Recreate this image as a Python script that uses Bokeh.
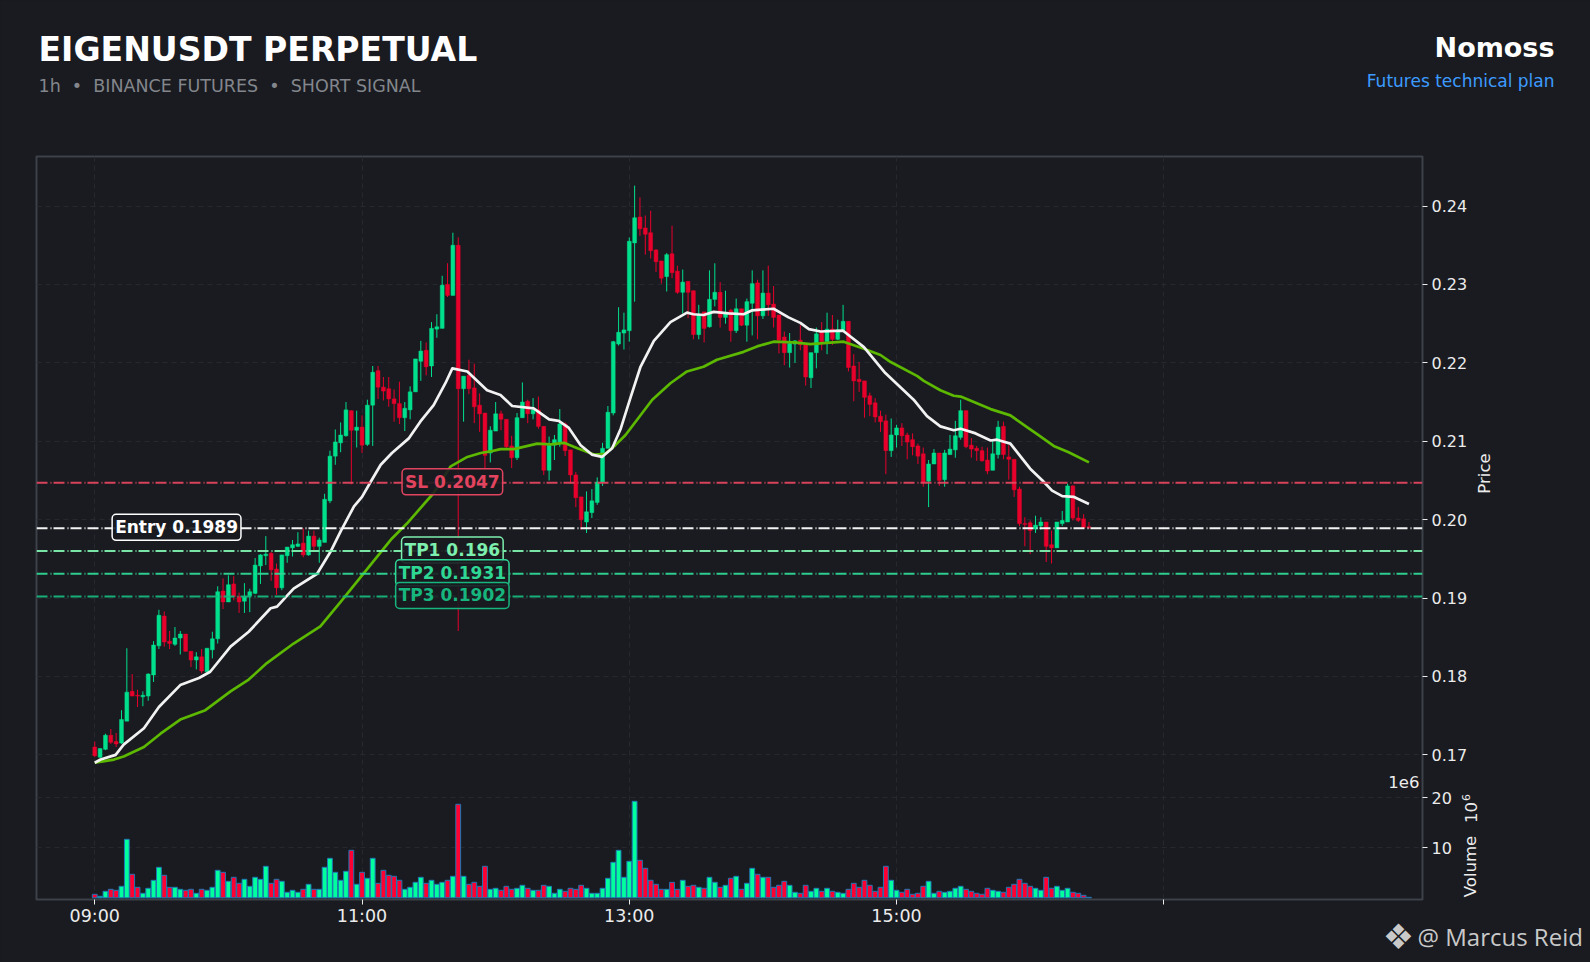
from bokeh.plotting import figure
from bokeh.models import Range1d, FixedTicker, Span, Label
from bokeh.embed import file_html
from bokeh.resources import INLINE

opens = [.1710,.1697,.1707,.1725,.1717,.1715,.1743,.1781,.1776,.1774,.1775,.1802,.1839,.1877,.1845,.1841,.1849,.1854,.1832,.1821,.1825,.1806,.1834,.1848,.1909,.1895,.1918,.1902,.1896,.1903,.1906,.1941,.1954,.1957,.1937,.1913,.1954,.1964,.1966,.1970,.1955,.1979,.1966,.1971,
.2024,.2081,.2098,.2107,.2139,.2114,.2118,.2096,.2146,.2190,.2169,.2167,.2154,.2148,.2130,.2140,.2163,.2202,.2216,.2196,.2243,.2244,.2300,.2286,.2350,.2167,.2184,.2168,.2146,.2136,.2085,.2113,.2135,.2128,.2094,.2079,.2130,.2151,.2135,.2140,.2119,.2063,.2095,.2099,.2122,.2089,.2057,.2029,.1997,.2009,.2022,.2048,.2091,.2136,
.2224,.2238,.2241,.2353,.2386,.2372,.2366,.2344,.2330,.2310,.2339,.2317,.2290,.2304,.2292,.2236,.2265,.2246,.2281,.2290,.2258,.2267,.2241,.2269,.2248,.2276,.2302,.2260,.2289,.2275,.2261,.2233,.2213,.2224,.2229,.2223,.2181,.2213,.2239,.2227,.2243,.2230,
.2241,.2253,.2196,.2179,.2177,.2158,.2149,.2132,.2126,.2088,.2108,.2117,.2108,.2102,.2094,.2084,.2049,.2071,.2085,.2051,.2083,.2089,.2105,.2139,.2095,.2091,.2088,.2076,.2063,.2083,.2119,.2080,.2077,.2039,.1995,.1996,.1988,.1992,.1997,.1968,.1964,.1995,.1997,.2043,.2002,.2001,.1991]
closes = [.1699,.1708,.1725,.1716,.1714,.1745,.1780,.1775,.1775,.1776,.1803,.1840,.1878,.1844,.1842,.1849,.1854,.1832,.1821,.1825,.1807,.1836,.1848,.1908,.1895,.1917,.1902,.1895,.1902,.1908,.1942,.1955,.1956,.1936,.1913,.1955,.1965,.1968,.1969,.1955,.1979,.1966,.1974,.2026,
.2081,.2099,.2108,.2140,.2114,.2118,.2095,.2146,.2188,.2169,.2164,.2154,.2148,.2130,.2142,.2163,.2205,.2215,.2195,.2244,.2246,.2299,.2286,.2350,.2167,.2183,.2167,.2144,.2135,.2082,.2114,.2135,.2128,.2093,.2079,.2130,.2150,.2135,.2140,.2119,.2063,.2095,.2102,.2122,.2088,.2057,.2028,.2000,.2010,.2024,.2048,.2091,.2137,.2227,
.2239,.2242,.2355,.2385,.2371,.2364,.2343,.2329,.2308,.2338,.2315,.2290,.2303,.2290,.2236,.2261,.2244,.2281,.2290,.2258,.2263,.2241,.2269,.2248,.2278,.2301,.2260,.2289,.2274,.2258,.2229,.2213,.2225,.2228,.2223,.2182,.2213,.2237,.2227,.2243,.2230,.2242,
.2253,.2194,.2177,.2176,.2156,.2147,.2131,.2125,.2088,.2108,.2117,.2107,.2099,.2093,.2081,.2048,.2071,.2085,.2050,.2085,.2090,.2107,.2139,.2093,.2090,.2088,.2075,.2062,.2084,.2118,.2083,.2077,.2038,.1995,.1994,.1986,.1993,.1997,.1966,.1964,.1997,.1999,.2043,.2002,.1999,.1990,.1990]
highs = [.1717,.1708,.1727,.1733,.1728,.1757,.1836,.1803,.1783,.1781,.1804,.1845,.1885,.1883,.1858,.1863,.1858,.1854,.1832,.1831,.1835,.1836,.1857,.1915,.1925,.1929,.1928,.1907,.1919,.1912,.1951,.1956,.1979,.1959,.1944,.1955,.1965,.1974,.1984,.1989,.1986,.1986,.1977,.2033,
.2088,.2115,.2124,.2150,.2139,.2139,.2133,.2153,.2196,.2196,.2182,.2182,.2166,.2176,.2150,.2170,.2205,.2228,.2226,.2252,.2262,.2311,.2327,.2366,.2360,.2183,.2204,.2199,.2161,.2136,.2119,.2150,.2139,.2128,.2107,.2136,.2175,.2153,.2155,.2157,.2119,.2106,.2108,.2141,.2124,.2089,.2061,.2029,.2036,.2039,.2054,.2098,.2145,.2228,
.2271,.2264,.2360,.2426,.2411,.2388,.2394,.2345,.2330,.2340,.2375,.2324,.2319,.2304,.2292,.2274,.2265,.2318,.2327,.2303,.2292,.2269,.2282,.2269,.2282,.2318,.2306,.2318,.2324,.2298,.2261,.2240,.2238,.2229,.2248,.2223,.2213,.2245,.2252,.2264,.2261,.2255,
.2274,.2253,.2211,.2201,.2177,.2162,.2155,.2139,.2134,.2129,.2121,.2123,.2111,.2110,.2097,.2092,.2076,.2090,.2085,.2089,.2108,.2126,.2153,.2139,.2104,.2094,.2093,.2092,.2102,.2126,.2125,.2095,.2077,.2042,.2003,.1999,.2005,.2003,.1997,.1986,.1997,.2011,.2046,.2044,.2016,.2007,.1997]
lows = [.1697,.1696,.1706,.1714,.1710,.1714,.1743,.1775,.1761,.1762,.1769,.1793,.1835,.1838,.1835,.1839,.1828,.1832,.1812,.1809,.1804,.1805,.1823,.1842,.1886,.1895,.1897,.1881,.1881,.1882,.1905,.1918,.1942,.1922,.1904,.1910,.1945,.1953,.1965,.1952,.1954,.1960,.1945,.1971,
.2021,.2070,.2086,.2106,.2045,.2092,.2085,.2094,.2094,.2154,.2152,.2144,.2125,.2122,.2113,.2128,.2163,.2177,.2184,.2182,.2232,.2244,.2284,.2286,.1858,.2125,.2160,.2123,.2112,.2063,.2073,.2113,.2114,.2089,.2066,.2076,.2130,.2123,.2128,.2116,.2057,.2050,.2076,.2093,.2081,.2046,.2016,.1987,.1983,.2002,.2019,.2043,.2091,.2133,
.2222,.2217,.2227,.2278,.2362,.2338,.2333,.2316,.2301,.2291,.2308,.2288,.2263,.2257,.2230,.2230,.2226,.2245,.2272,.2245,.2250,.2227,.2238,.2247,.2227,.2235,.2230,.2256,.2260,.2245,.2212,.2197,.2194,.2200,.2216,.2171,.2168,.2193,.2216,.2211,.2223,.2229,
.2240,.2189,.2151,.2163,.2130,.2132,.2124,.2112,.2058,.2080,.2092,.2094,.2077,.2082,.2071,.2042,.2016,.2071,.2043,.2042,.2083,.2079,.2102,.2091,.2079,.2075,.2074,.2058,.2063,.2078,.2077,.2051,.2029,.1992,.1966,.1956,.1983,.1987,.1946,.1944,.1964,.1992,.1997,.1999,.1997,.1988,.1988]
volumes_m = [.7,.3,1.3,1.7,1.5,2.3,11.7,4.7,2.1,.9,1.9,3.5,6.1,4.5,2.1,2.1,1.7,1.5,1.7,.9,1.7,1.5,2.1,5.5,5.1,3.3,4.1,2.9,3.7,2.3,4.1,3.7,6.3,2.9,3.7,3.3,1.1,1.5,1.1,1.7,2.7,1.7,1.7,6.1,7.9,5.1,3.5,5.3,9.5,2.7,5.1,3.9,7.9,2.9,5.5,4.5,4.3,3.5,1.7,2.1,
3.1,4.1,2.9,3.5,2.7,3.1,3.5,4.3,18.7,4.3,2.7,3.1,2.3,6.3,1.7,1.9,1.5,2.3,1.7,1.9,2.5,1.9,1.5,1.5,2.5,2.3,.9,1.7,1.3,1.9,1.7,2.5,1.9,.9,.9,1.9,3.9,7.1,9.5,4.1,7.3,19.3,7.5,5.9,3.5,2.7,1.7,1.7,3.1,1.7,3.5,2.3,2.5,2.1,1.9,4.1,3.1,2.1,2.5,3.9,
4.3,1.7,2.9,5.9,4.7,4.1,4.1,2.1,2.5,3.3,2.5,1.1,.9,2.5,1.3,1.9,1.3,1.9,1.3,1.1,.9,1.7,2.9,2.1,3.5,2.5,1.3,2.1,6.3,3.5,1.5,1.1,1.7,.7,.9,2.3,3.3,.9,1.3,1.1,1.3,1.9,2.3,1.7,1.3,.9,.7,1.9,1.5,1.3,1.1,2.1,2.7,3.7,2.9,2.3,1.9,1.5,4.1,1.9,2.3,1.5,1.9,1.1,.9,.5,.1]

fast_k = [0,1.1,3.9,5.4,9.2,12,16,19.5,21.6,25.4,28.8,32.9,34.1,37.2,41.6,44.1,46,48.5,50,51.6,53.5,55.6,58.8,60.9,63.4,65.6,66.9,69.7,73.4,75.9,78.1,82.1,85,86.8,88.7,90.9,93,94.9,96.8,98.4,100.2,102.1,104.6,107.7,110.8,112,113.9,115.8,118.6,121.4,123,127,129.8,132,133.6,135.8,140,143.9,147.9,153.2,155.7,158.2,160.7,162,164.8,167.6,168.8,171.3,175,177.3,179.1,181,183.2,186]
fast_ma = [.1690,.1694,.1700,.1713,.1734,.1761,.1789,.1798,.1806,.1838,.1857,.1887,.1889,.1912,.1931,.1959,.1985,.2017,.2029,.2048,.2070,.2085,.2104,.2125,.2146,.2174,.2193,.2189,.2165,.2159,.2145,.2142,.2128,.2126,.2117,.2095,.2083,.2080,.2091,.2116,.2155,.2195,.2228,.2252,.2264,.2262,.2261,.2265,.2263,.2262,.2267,.2269,.2258,.2251,.2243,.2240,.2241,.2220,.2187,.2153,.2132,.2119,.2114,.2116,.2110,.2101,.2102,.2097,.2065,.2050,.2037,.2030,.2029,.2020]
slow_k = [0,3.6,5.4,9.2,12.3,16,20.7,25.4,28.8,32.2,37.2,42.2,46,55.6,58.4,63.4,66.6,69.7,72.2,74,75.9,78.4,82.8,85.3,87.8,90.3,93.4,95.5,97.4,99.3,104.3,107.7,110.8,113.9,116.4,121.4,123.9,127,130.8,133.9,140.1,143.9,147,148.9,153.9,155.1,158.2,160.7,162,167.6,171.3,174.4,176.3,179.4,182.2,186]
slow_ma = [.1690,.1694,.1698,.1710,.1727,.1745,.1757,.1781,.1796,.1817,.1842,.1864,.1895,.1976,.1995,.2034,.2068,.2080,.2085,.2087,.2090,.2090,.2097,.2096,.2098,.2091,.2083,.2084,.2095,.2108,.2153,.2174,.2189,.2195,.2204,.2214,.2221,.2227,.2226,.2224,.2227,.2218,.2210,.2201,.2183,.2177,.2165,.2158,.2157,.2141,.2133,.2118,.2109,.2094,.2086,.2073]

price_ticks = [.17,.18,.19,.20,.21,.22,.23,.24]
volume_ticks_m = [10,20]
time_ticks = [0,50,100,150,200]
time_labels = ["09:00","11:00","13:00","15:00",""]
levels = [("SL 0.2047",.2047,"#E2445F"),("Entry 0.1989",.1989,"#FFFFFF"),("TP1 0.196",.196,"#7DEFAE"),("TP2 0.1931",.1931,"#2FD795"),("TP3 0.1902",.1902,"#17B67E")]
level_label_x = {"SL 0.2047":66.9,"Entry 0.1989":15.3,"TP1 0.196":66.9,"TP2 0.1931":66.9,"TP3 0.1902":66.9}

BG = "#191B20"
GREEN, RED = "#00DF8C", "#E6002B"
VGREEN, VRED = "#00FF9D", "#FF0033"
INK = "#ECECEC"

y0, y1 = .15155, .24632
v0, v1 = -.34, 148.26
chart = figure(width=1590, height=962, output_backend="svg", toolbar_location=None,
           x_range=Range1d(-10.9, 248.4), y_range=Range1d(y0, y1),
           y_axis_location="right",
           min_border_left=36, min_border_right=168, min_border_top=156, min_border_bottom=63,
           background_fill_color=BG, border_fill_color=BG, outline_line_color="#3D4249", outline_line_width=2)
chart.extra_y_ranges = {"vol": Range1d(v0, v1)}

def price_of_volume(v):
    return round(y0 + (v - v0) / (v1 - v0) * (y1 - y0), 6)

vol_positions = [price_of_volume(v) for v in volume_ticks_m]
all_ticks = price_ticks + vol_positions
overrides = {t: f"{t:.2f}" for t in price_ticks}
overrides.update({pos: str(v) for pos, v in zip(vol_positions, volume_ticks_m)})
ticker = FixedTicker(ticks=all_ticks)

yax = chart.yaxis[0]
yax.ticker = ticker
yax.major_label_overrides = overrides
xax = chart.xaxis[0]
xax.ticker = FixedTicker(ticks=time_ticks)
xax.major_label_overrides = dict(zip(time_ticks, time_labels))
for ax in (xax, yax):
    ax.axis_line_color = None
    ax.minor_tick_line_color = None
    ax.major_tick_line_color = INK
    ax.major_tick_line_width = 1
    ax.major_tick_out = 5
    ax.major_tick_in = 0
    ax.major_label_text_color = INK
    ax.major_label_text_font = "DejaVu Sans"
    ax.major_label_text_font_size = "16px"
    ax.major_label_standoff = 4
xax.major_label_text_font_size = "17.5px"
xax.major_label_standoff = 1

chart.ygrid[0].ticker = ticker
for g in (chart.xgrid[0], chart.ygrid[0]):
    g.grid_line_color = "#25282E"
    g.grid_line_dash = "5 4"
    g.grid_line_width = 1

idx = list(range(len(opens)))
up = [c >= o for o, c in zip(opens, closes)]
cols = [GREEN if u else RED for u in up]
vcols = [VGREEN if u else VRED for u in up]
chart.segment(idx, lows, idx, highs, color=cols, line_width=1)
chart.vbar(idx, 0.72, [min(o, c) for o, c in zip(opens, closes)], [max(o, c) for o, c in zip(opens, closes)],
       fill_color=cols, line_color=cols, line_width=0.5)
chart.vbar(idx, 0.9, [0] * len(idx), volumes_m, y_range_name="vol", fill_color=vcols, line_color="#1F77B4", line_width=1)
chart.line(slow_k, slow_ma, line_color="#5CB800", line_width=2.7, line_join="round")
chart.line(fast_k, fast_ma, line_color="#F2F2F2", line_width=2.7, line_join="round")

for txt, lvl, col in levels:
    chart.add_layout(Span(location=lvl, dimension="width", line_color=col, line_width=2, line_dash="11 3 1 2", line_alpha=0.95))
for txt, lvl, col in levels:
    chart.add_layout(Label(x=level_label_x[txt], y=lvl, y_offset=1, text=txt, text_color=col, text_font="DejaVu Sans", text_font_style="bold",
                       text_font_size="17px", text_align="center", text_baseline="middle",
                       background_fill_color=BG, background_fill_alpha=0.9, border_line_color=col, border_line_width=1.5,
                       padding=3, border_radius=4))

# transparent sheet over the chart that carries the texts outside the plot frame
sheet = figure(width=1590, height=962, output_backend="svg", toolbar_location=None,
               x_range=Range1d(0, 1590), y_range=Range1d(962, 0), x_axis_location=None, y_axis_location=None,
               min_border=0, outline_line_color=None, background_fill_color=None, border_fill_color=None,
               margin=(-962, 0, 0, 0))
sheet.xgrid.visible = False
sheet.ygrid.visible = False

def caption(sx, sy, text, size, color, bold=False, align="left", angle=0, font="DejaVu Sans"):
    sheet.add_layout(Label(x=sx, y=sy, text=text, text_font=font, text_font_size=size, text_color=color,
                           text_font_style="bold" if bold else "normal", text_align=align,
                           text_baseline="middle", angle=angle, angle_units="deg"))

NB = "\u00a0\u00a0"
caption(38, 48.5, "EIGENUSDT PERPETUAL", "33.1px", "#FFFFFF", bold=True)
caption(38, 85.5, f"1h{NB}•{NB}BINANCE FUTURES{NB}•{NB}SHORT SIGNAL", "17.5px", "#83868C")
caption(1554, 47, "Nomoss", "27px", "#FFFFFF", bold=True, align="right")
caption(1554, 80, "Futures technical plan", "17px", "#3D9BFF", align="right")
caption(1419, 781, "1e6", "16.5px", INK, align="right")
caption(1484, 473, "Price", "16.5px", INK, align="center", angle=90)
caption(1470, 866, "Volume", "16.5px", INK, align="center", angle=90)
caption(1470, 812, "10", "16.5px", INK, align="center", angle=90)
caption(1465, 797, "6", "11px", INK, align="center", angle=90)
caption(1398, 936, "❖", "35px", "#C9C9C9", align="center")
caption(1417, 936, "@ Marcus Reid", "24px", "#C9C9C9", font="Open Sans")

p = [chart, sheet]
html = file_html(p, INLINE)
html = html.replace("<head>", "<head><style>html,body{background:#191B20}</style>", 1)
open("out.html", "w").write(html)
